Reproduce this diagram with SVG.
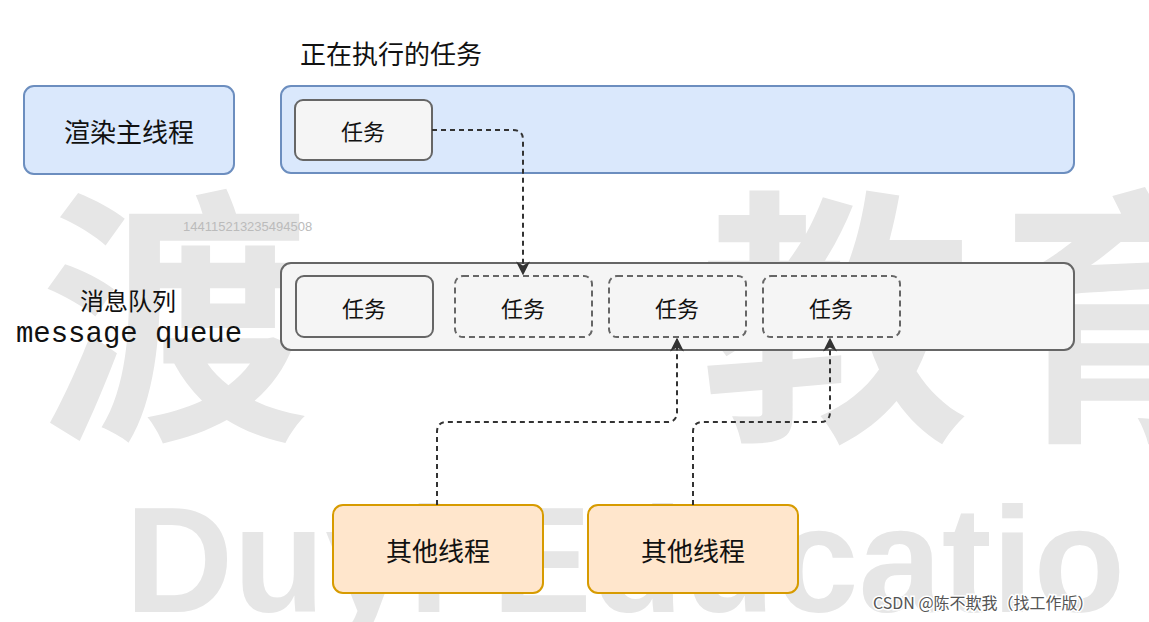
<svg xmlns="http://www.w3.org/2000/svg" width="1149" height="622" viewBox="0 0 1149 622">
<style>
.t{font-family:"Noto Sans CJK SC","Noto Sans",sans-serif;fill:#111;text-anchor:middle;dominant-baseline:central}
.mono{font-family:"Liberation Mono","DejaVu Sans Mono",monospace}
.wm{font-family:"Noto Sans CJK SC","Liberation Sans",sans-serif;fill:#e6e6e6;font-weight:bold}
.blue{fill:#dae8fc;stroke:#6c8ebf;stroke-width:2}
.gray{fill:#f5f5f5;stroke:#666;stroke-width:2}
.dash{fill:#f5f5f5;stroke:#666;stroke-width:2;stroke-dasharray:6 4}
.org{fill:#ffe6cc;stroke:#d79b00;stroke-width:2}
.c{fill:none;stroke:#333;stroke-width:2;stroke-dasharray:5 4}
</style>
<defs><marker id="a" viewBox="0 0 10 10" refX="9" refY="5" markerWidth="7" markerHeight="7" orient="auto"><path d="M0,0L10,5L0,10L3,5z" fill="#333"/></marker></defs>
<rect width="1149" height="622" fill="#fff"/>
<g id="watermark">
<text class="wm" x="40" y="420" font-size="270">渡</text>
<text class="wm" x="470" y="420" font-size="270">一</text>
<text class="wm" x="700" y="420" font-size="270">教</text>
<text class="wm" x="1000" y="420" font-size="270">育</text>
<text class="wm" x="125" y="612" font-size="150" style="font-family:'Liberation Sans',sans-serif">Duyi Educatio</text>
<text x="183" y="231" font-size="13" fill="#bbb" font-family="Liberation Sans">144115213235494508</text>
</g>
<text class="t" x="391" y="52" font-size="26">正在执行的任务</text>
<g id="main"><rect class="blue" x="24" y="86" width="210" height="88" rx="10"/><text class="t" x="129" y="130" font-size="26">渲染主线程</text></g>
<g id="exec"><rect class="blue" x="281" y="86" width="793" height="87" rx="10"/></g>
<g id="cur"><rect class="gray" x="295" y="100" width="137" height="60" rx="8"/><text class="t" x="363" y="130" font-size="22">任务</text></g>
<g id="queue"><rect class="gray" x="281" y="263" width="793" height="87" rx="10"/></g>
<g id="ql"><text class="t" x="128" y="299" font-size="24">消息队列</text><text class="t mono" x="129" y="334" font-size="29">message queue</text></g>
<g id="q1"><rect class="gray" x="296" y="276" width="137" height="61" rx="8"/><text class="t" x="364" y="307" font-size="22">任务</text></g>
<g id="q2"><rect class="dash" x="455" y="276" width="137" height="61" rx="8"/><text class="t" x="523" y="307" font-size="22">任务</text></g>
<g id="q3"><rect class="dash" x="609" y="276" width="137" height="61" rx="8"/><text class="t" x="677" y="307" font-size="22">任务</text></g>
<g id="q4"><rect class="dash" x="763" y="276" width="137" height="61" rx="8"/><text class="t" x="831" y="307" font-size="22">任务</text></g>
<g id="o1"><rect class="org" x="333" y="505" width="210" height="88" rx="10"/><text class="t" x="438" y="549" font-size="26">其他线程</text></g>
<g id="o2"><rect class="org" x="588" y="505" width="210" height="88" rx="10"/><text class="t" x="693" y="549" font-size="26">其他线程</text></g>
<g id="connectors">
<path class="c" d="M432,130H513Q523,130 523,140V274" marker-end="url(#a)"/>
<path class="c" d="M437,505V432Q437,422 447,422H667Q677,422 677,412V339" marker-end="url(#a)"/>
<path class="c" d="M693,505V432Q693,422 703,422H820Q830,422 830,412V339" marker-end="url(#a)"/>
</g>
<text x="873" y="609" font-size="16" fill="#fff" stroke="#fff" stroke-width="3" font-family="Noto Sans CJK SC,sans-serif">CSDN @陈不欺我（找工作版）</text>
<text x="873" y="609" font-size="16" fill="#555" font-family="Noto Sans CJK SC,sans-serif">CSDN @陈不欺我（找工作版）</text>
</svg>
